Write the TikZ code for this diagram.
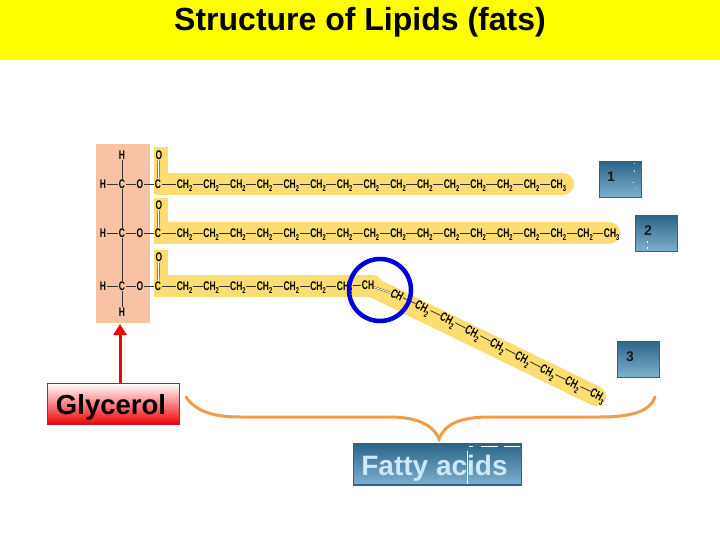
\documentclass[tikz,border=0pt]{standalone}
\usepackage{fontspec}
\setmainfont{Liberation Sans}
\newfontfamily\chainfont[FakeStretch=0.68]{Liberation Sans}
\usetikzlibrary{arrows.meta}

\definecolor{titlecol}{RGB}{255,255,0}
\definecolor{bandcol}{HTML}{FBDD72}
\definecolor{glyccol}{HTML}{F8C3A4}
\definecolor{boxtop}{HTML}{2C6688}
\definecolor{boxbot}{HTML}{7FB0CF}
\definecolor{bracecol}{HTML}{F09C48}
\definecolor{fattycol}{HTML}{CDE8F6}
\definecolor{glyline}{HTML}{C41828}

\newcommand{\chn}[1]{CH\smash{\raisebox{-3.5pt}{\fontsize{8.5}{8.5}\selectfont #1}}}

\tikzset{
  atom/.style={inner sep=.3pt,font=\chainfont\bfseries\fontsize{12.5}{12.5}\selectfont,text=black},
  bond/.style={black!80,line width=.8pt},
  band/.style={bandcol,line width=22pt,line cap=round},
  numbox/.style={draw=boxtop,line width=1.2pt,top color=boxtop,bottom color=boxbot,
    minimum width=42pt,minimum height=36pt,inner sep=0pt},
  numlabel/.style={inner sep=0pt,font=\bfseries\fontsize{14}{14}\selectfont,text=black!90},
  speck/.style={white,line width=.6pt}
}

\begin{document}
\begin{tikzpicture}[x=1pt,y=-1pt]
  \useasboundingbox (0,0) rectangle (720,540);
  \fill[white] (0,0) rectangle (720,540);
  \fill[titlecol] (0,0) rectangle (720,60);
  \node[inner sep=0pt,font=\bfseries\fontsize{32}{32}\selectfont] (title) at (360,22.5) {Structure of Lipids (fats)};

  % coloured bands
  \fill[glyccol] (96,144) rectangle (150,323);
  \fill[bandcol] (154,147) rectangle (168,190);
  \fill[bandcol] (154,198) rectangle (168,240);
  \fill[bandcol] (154,250) rectangle (168,292);
  \draw[band] (165,184) -- (563,184);
  \draw[band] (165,233) -- (609,233);
  \draw[band] (165,286) -- (372,286);
  \draw[band,line width=20pt] (372,287) -- (596,396);
  \fill[bandcol] (154,173) rectangle (168,195);
  \fill[bandcol] (154,222) rectangle (168,244);
  \fill[bandcol] (154,275) rectangle (168,297);

  % glycerol part
  \node[atom] (ht) at (122,155) {H};
  \node[atom] (hb) at (122,312) {H};
  \foreach \r/\y/\oy in {1/184/155,2/233/205,3/286/257} {
    \node[atom] (h\r) at (103,\y) {H};
    \node[atom] (c\r) at (122,\y) {C};
    \node[atom] (o\r) at (140,\y) {O};
    \node[atom] (k\r) at (158,\y) {C};
    \node[atom] (d\r) at (159,\oy) {O};
    \draw[bond] (h\r) -- (c\r);
    \draw[bond] (c\r) -- (o\r);
    \draw[bond] (o\r) -- (k\r);
    \draw[bond,double,double distance=1.4pt,line width=.5pt] (k\r) -- (d\r);
  }
  \foreach \from/\to in {ht/c1,c1/c2,c2/c3,c3/hb}
    \draw[bond] (\from) -- (\to);

  % first chain
  \foreach \i in {1,...,14}
    \node[atom] (a\i) at ({157.8+26.7*\i},184) {\chn{2}};
  \node[atom] (a15) at (558.3,184) {\chn{3}};
  \draw[bond] (k1) -- (a1);
  \foreach \i [evaluate=\i as \j using int(\i+1)] in {1,...,14}
    \draw[bond] (a\i) -- (a\j);

  % second chain
  \foreach \i in {1,...,16}
    \node[atom] (b\i) at ({157.8+26.7*\i},233) {\chn{2}};
  \node[atom] (b17) at (611.7,233) {\chn{3}};
  \draw[bond] (k2) -- (b1);
  \foreach \i [evaluate=\i as \j using int(\i+1)] in {1,...,16}
    \draw[bond] (b\i) -- (b\j);

  % third chain, bent at the double bond
  \foreach \i in {1,...,7}
    \node[atom] (e\i) at ({157.8+26.7*\i},286) {\chn{2}};
  \node[atom] (e8) at (368,285) {CH};
  \node[atom,rotate=-27] (e9) at (397,295) {CH};
  \foreach \i/\x/\y in {10/423/307,11/448/319,12/473/332,13/498/345,14/523/358,15/548/371,16/573/383}
    \node[atom,rotate=-27] (e\i) at (\x,\y) {\chn{2}};
  \node[atom,rotate=-27] (e17) at (598,395) {\chn{3}};
  \draw[bond] (k3) -- (e1);
  \foreach \i [evaluate=\i as \j using int(\i+1)] in {1,...,7,9,10,...,16}
    \draw[bond] (e\i) -- (e\j);
  \draw[bond,double,double distance=1pt,line width=.4pt] (e8) -- (e9);

  \node[draw=blue!85!black,line width=4.5pt,circle,minimum size=62pt,inner sep=0pt] (ring) at (380,290) {};

  % number boxes
  \node[numbox] (n1) at (620.5,179.5) {};
  \node[numlabel] (t1) at (611,177) {1};
  \node[numbox] (n2) at (656.5,233.5) {};
  \node[numlabel] (t2) at (648,231) {2};
  \node[numbox] (n3) at (638.5,359.5) {};
  \node[numlabel] (t3) at (630,357) {3};
  \foreach \x/\ya/\yb in {634/163/164,634/170/172,633/182/183,636/188/188.5}
    \draw[speck] (\x,\ya) -- (\x+.6,\yb);
  \foreach \x/\ya/\yb in {647/241/243,647/247/249}
    \draw[speck] (\x,\ya) -- (\x,\yb);

  % glycerol label and arrow
  \node[draw=glyline,line width=1.4pt,top color=white,bottom color=red!95!black,
    minimum width=132pt,minimum height=41pt,inner sep=0pt] (gly) at (113.5,404) {};
  \node[inner sep=0pt,font=\bfseries\fontsize{27.5}{27.5}\selectfont] (glytext) at (111,407) {Glycerol};
  \coordinate (glytip) at (120,324);
  \draw[-{Triangle[length=11pt,width=13pt]},red!95!black,line width=3pt] (gly.north -| glytip) -- (glytip);

  % brace
  \coordinate (bl) at (186,397);
  \coordinate (bm) at (439,439);
  \coordinate (br) at (655,397);
  \draw[bracecol,line width=3pt,line cap=round]
    (bl) .. controls (196,412) and (215,417) .. (240,417)
    -- (390,417) .. controls (415,417) and (433,424) .. (bm)
    .. controls (445,424) and (460,417) .. (490,417)
    -- (600,417) .. controls (630,417) and (650,412) .. (br);

  % fatty acids box
  \node[numbox,minimum width=168pt,minimum height=41pt] (fatty) at (437.5,464.5) {};
  \node[inner sep=0pt,font=\bfseries\fontsize{28}{28}\selectfont,text=fattycol] (fattytext) at (434.5,468) {Fatty acids};
  \foreach \xa/\xb in {469/473,481/498,504/520}
    \draw[speck] (\xa,446) -- (\xb,446);
  \draw[speck,line width=.5pt] (467.5,451) -- (467.5,484);
\end{tikzpicture}
\end{document}
